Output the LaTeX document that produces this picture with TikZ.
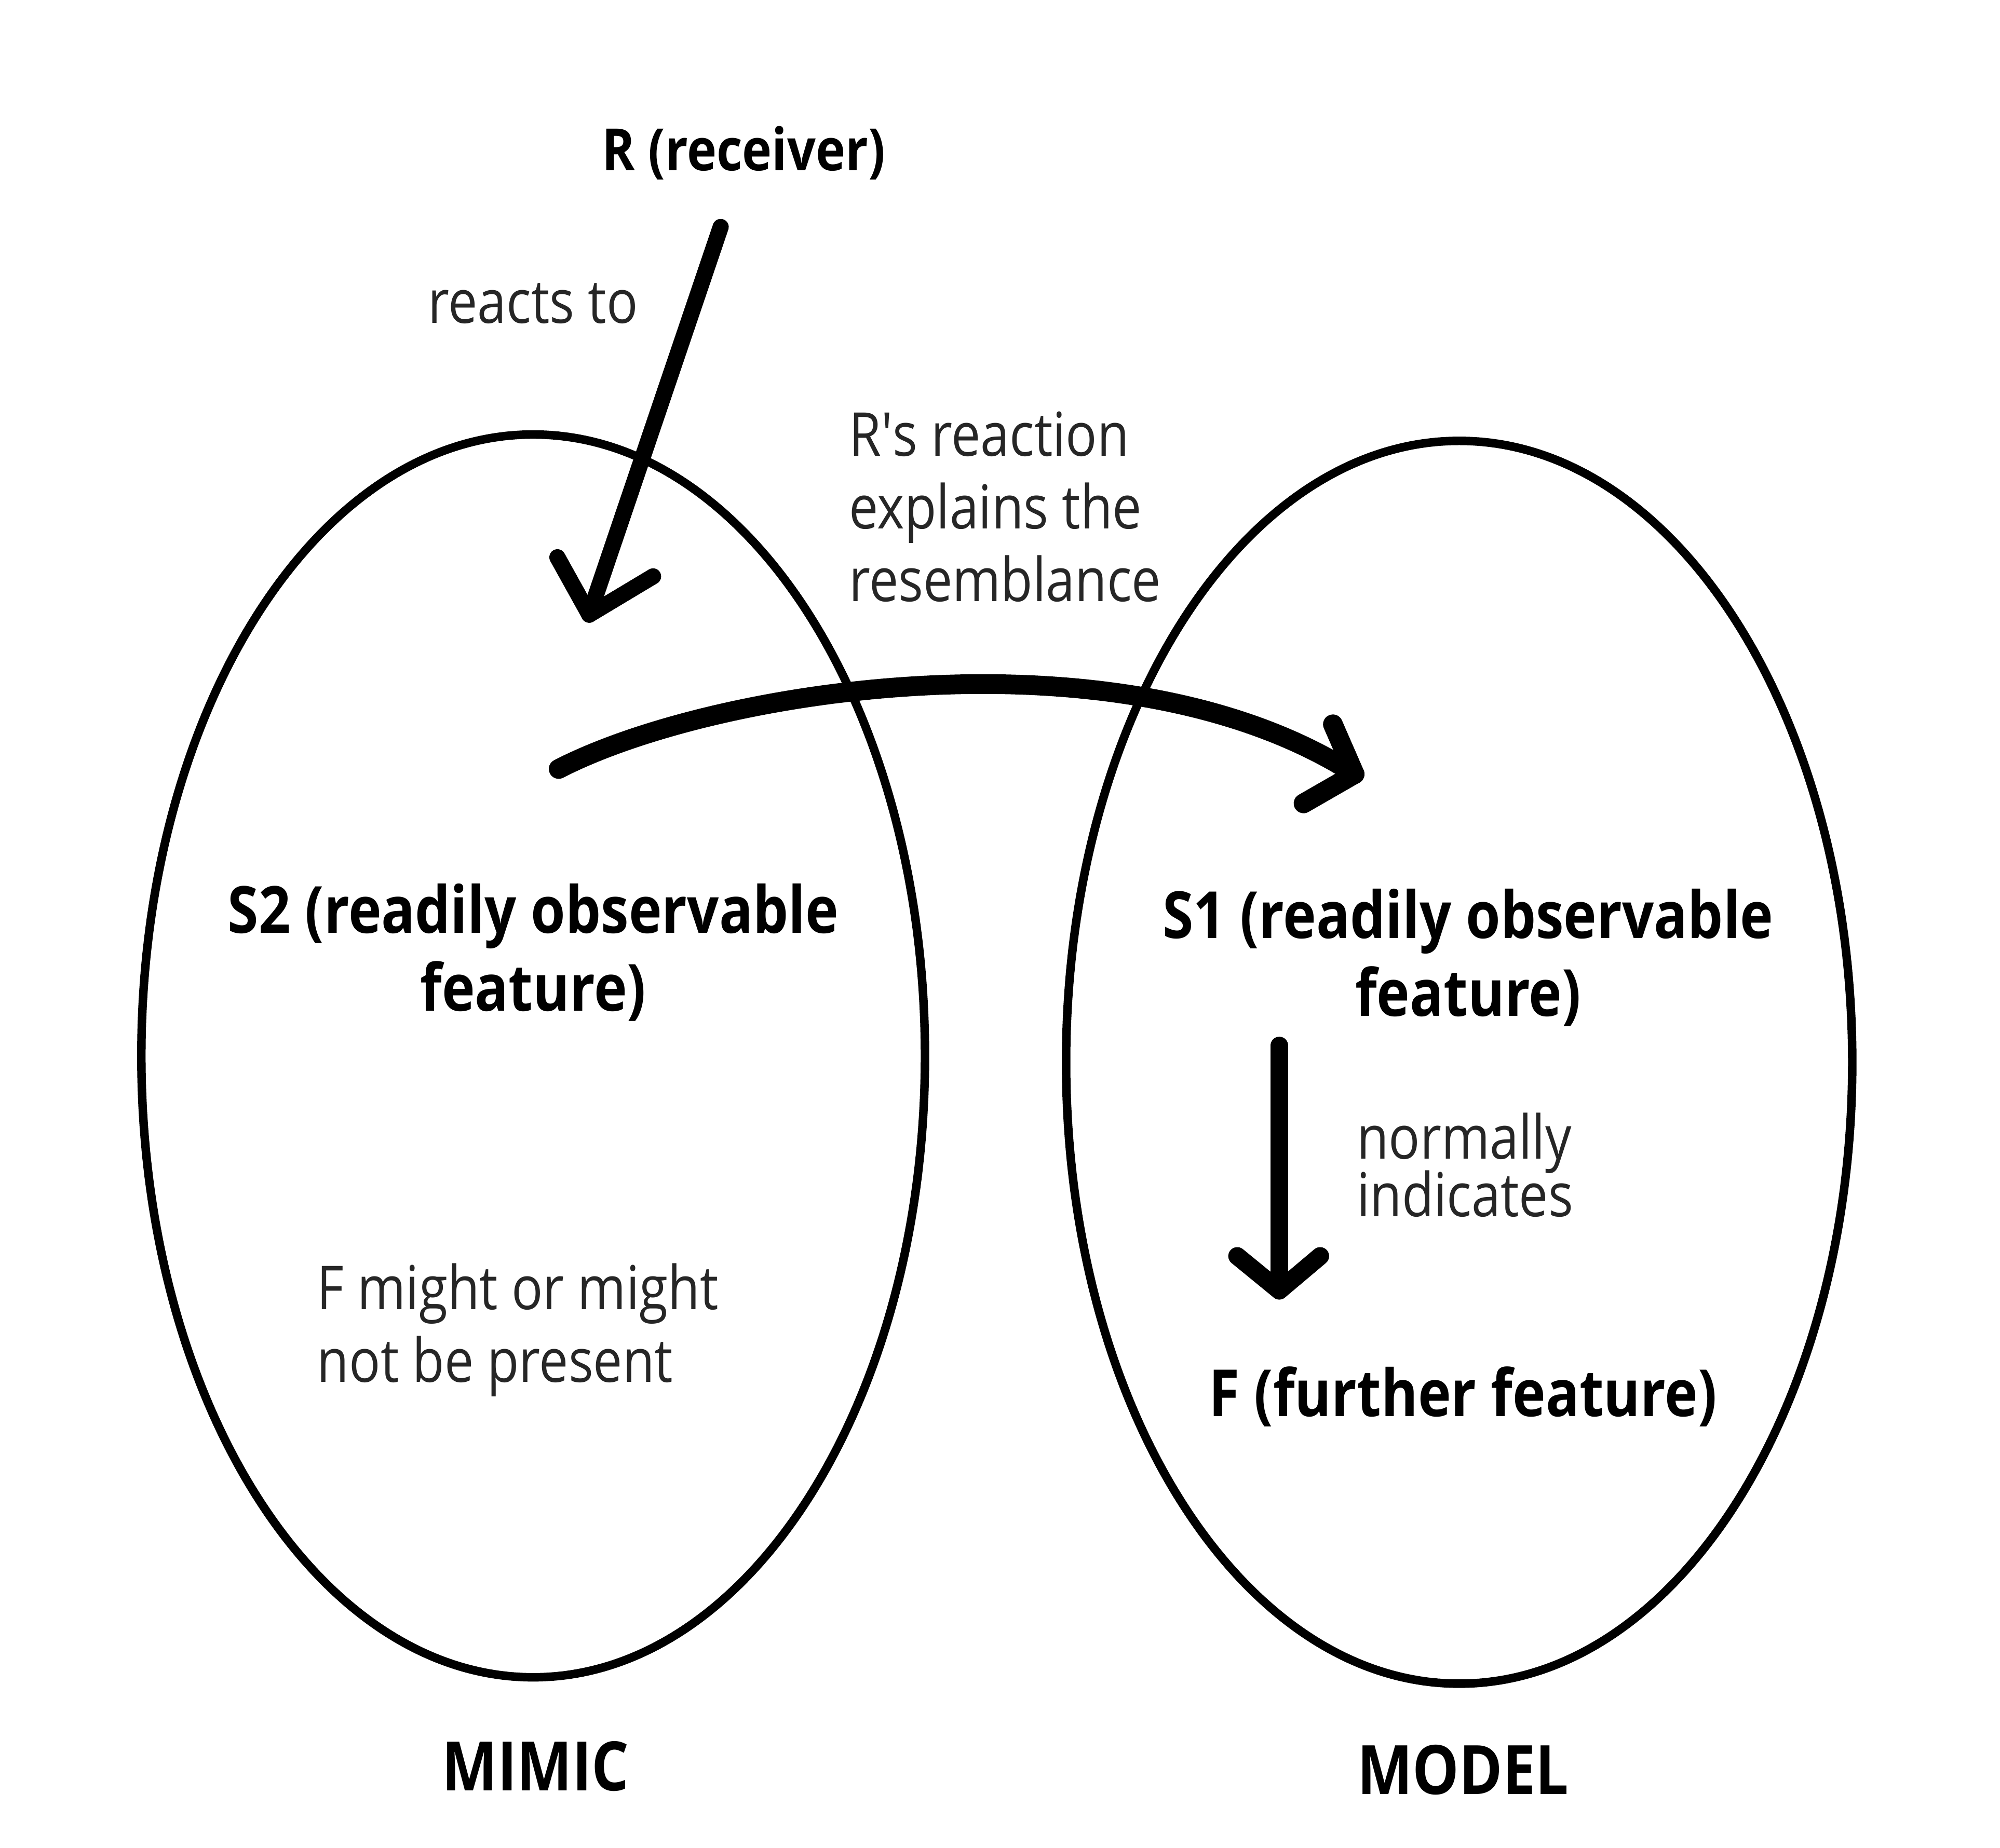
\documentclass[tikz,border=0pt]{standalone}
\usepackage{fontspec}
\setmainfont{Open Sans}[FakeStretch=0.86]
\usetikzlibrary{shapes.geometric}
\newcommand{\sq}{{\addfontfeature{Ligatures=TeXOff}'}}
\newcommand{\tightlines}{\lineskiplimit=-20pt\relax}
\begin{document}
\begin{tikzpicture}[x=0.01cm,y=-0.01cm,
  lbl/.style={font=\fontsize{13.5pt}{16.2pt}\selectfont, text=black!85, inner sep=0pt},
  blbl/.style={font=\fontsize{14.5pt}{17.4pt}\selectfont\bfseries, inner sep=0pt, align=center},
  oval/.style={ellipse, draw, line width=1.9pt, inner sep=0pt},
  stroke/.style={line width=#1, line cap=round, line join=round}
]
\useasboundingbox (0,0) rectangle (1568,1449);
\fill[white] (0,0) rectangle (1568,1449);
% ellipses
\node[oval, minimum width=6.14cm, minimum height=9.74cm] (mimicE) at (418,828) {};
\node[oval, minimum width=6.16cm, minimum height=9.74cm] (modelE) at (1144,833) {};
% texts
\node[blbl, font=\fontsize{13pt}{16pt}\selectfont\bfseries] (R) at (583,120) {R (receiver)};
\node[lbl, anchor=west] (reacts) at (335,238) {reacts to};
\node[lbl, anchor=north west, align=left] (expl) at (665,322) {R\sq s reaction\\explains the\\resemblance};
\node[blbl] (S2) at (418,747) {S2 (readily observable\\feature)};
\node[blbl] (S1) at (1151,751) {S1 (readily observable\\feature)};
\node[lbl, anchor=north west, align=left, font=\fontsize{13.5pt}{12.8pt}\selectfont\tightlines] (norm) at (1063,872) {normally\\indicates};
\node[blbl] (F) at (1147,1095) {F (further feature)};
\node[lbl, anchor=north west, align=left] (Fm) at (248,990) {F might or might\\not be present};
\node[blbl, font=\fontsize{15.2pt}{18pt}\selectfont\bfseries] (mimic) at (420,1385) {MIMIC};
\node[blbl, font=\fontsize{15.2pt}{18pt}\selectfont\bfseries] (model) at (1147,1388) {MODEL};
% arrow R -> S2
\coordinate (a1s) at (565,178);
\coordinate (a1e) at (462,482);
\draw[stroke=3.6pt] (a1s) -- (a1e);
\draw[stroke=3.6pt] (437,437) -- (a1e) -- (512,452);
% curved arrow S2 -> S1
\coordinate (a2s) at (438,603);
\coordinate (a2e) at (1062,607);
\draw[stroke=4.4pt] (a2s) .. controls (560,540) and (880,490) .. (a2e);
\draw[stroke=4.4pt] (1045,568) -- (a2e) -- (1022,630);
% down arrow S1 -> F
\coordinate (a3s) at (1003,820);
\coordinate (a3e) at (1003,1012);
\draw[stroke=4pt] (a3s) -- (a3e);
\draw[stroke=4pt] (970,985) -- (a3e) -- (1035,985);
\end{tikzpicture}
\end{document}
